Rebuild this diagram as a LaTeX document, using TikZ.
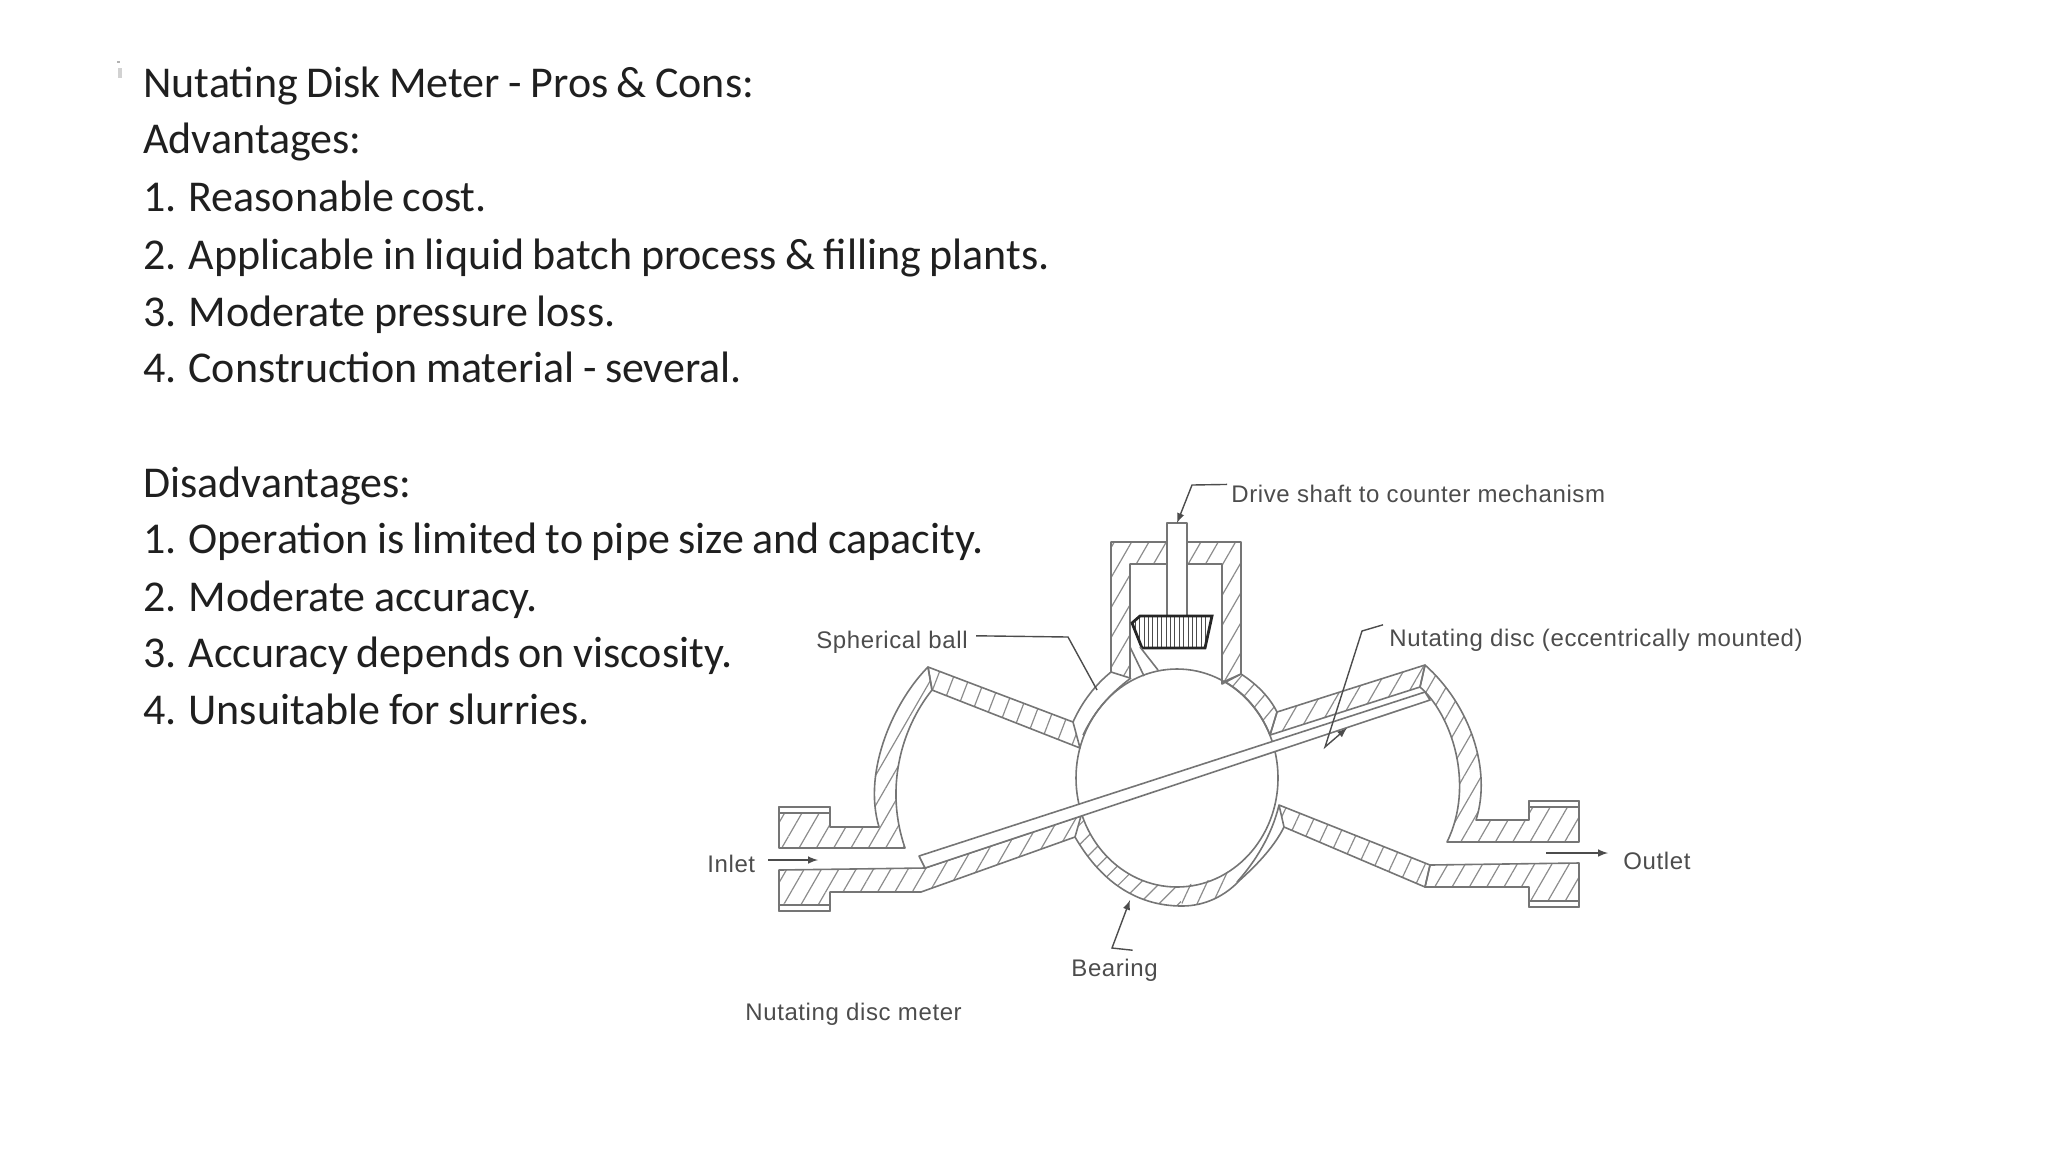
\documentclass[tikz,border=0pt]{standalone}
\usepackage{fontspec}
\setmainfont[WordSpace=0.85]{Carlito}
\newfontfamily\labelfont[LetterSpace=2.5]{Liberation Sans}
\usetikzlibrary{patterns.meta}
\definecolor{wallgray}{gray}{0.46}
\definecolor{hatchgray}{gray}{0.55}
\definecolor{inkgray}{gray}{0.3}
\tikzset{
  bodytext/.style={anchor=base west,inner sep=0pt,text=black!88,font=\fontsize{22}{26}\selectfont},
  parttext/.style={anchor=base west,inner sep=0pt,text=inkgray,font=\labelfont\fontsize{12}{14}\selectfont},
  wall/.style={draw=wallgray,line width=0.8pt,line join=round},
  hatch/.style={wall,pattern={Lines[angle=60,distance=7.5pt,line width=0.6pt]},pattern color=hatchgray},
  ribs/.style={wall,pattern={Lines[angle=#1,distance=7.5pt,line width=0.6pt]},pattern color=hatchgray},
  ribfill/.style={pattern={Lines[angle=#1,distance=7pt,line width=0.6pt]},pattern color=hatchgray},
  leader/.style={draw=inkgray,line width=0.7pt},
}
\begin{document}
\begin{tikzpicture}[x=0.5pt,y=-0.5pt]
        \useasboundingbox (0,0) rectangle (2048,1152);

        % text on the left
        \node[bodytext] (title) at (143,97) {Nutating Disk Meter - Pros \& Cons:};
        \node[bodytext] (adv) at (143,153) {Advantages:};
        \node[bodytext] (adva) at (143,211) {1. Reasonable cost.};
        \node[bodytext] (advb) at (143,269) {2. Applicable in liquid batch process \& filling plants.};
        \node[bodytext] (advc) at (143,326) {3. Moderate pressure loss.};
        \node[bodytext] (advd) at (143,382) {4. Construction material - several.};
        \node[bodytext] (dis) at (143,497) {Disadvantages:};
        \node[bodytext] (disa) at (143,553) {1. Operation is limited to pipe size and capacity.};
        \node[bodytext] (disb) at (143,611) {2. Moderate accuracy.};
        \node[bodytext] (disc) at (143,667) {3. Accuracy depends on viscosity.};
        \node[bodytext] (disd) at (143,724) {4. Unsuitable for slurries.};
        \fill[gray!60] (117,61) rectangle (120,62.5);
        \fill[gray!35] (118,68) rectangle (122,78);

        % meter body
        \path[hatch] (928,667) .. controls (895,700) and (862,770) .. (879,827) -- (830,827) -- (830,807) -- (779,807)
          -- (779,848) -- (905,848) .. controls (885,790) and (900,730) .. (932,690) -- cycle;
        \path[ribs=69] (928,667) -- (1073,722) -- (1080,748) -- (932,690) -- cycle;
        \path[hatch] (779,870) -- (925,868) -- (1081,816) -- (1075,837) -- (921,892) -- (830,892) -- (830,911) -- (779,911) -- cycle;

        \path[hatch] (1277,712) -- (1425,665) -- (1420,687) -- (1270,735) -- cycle;
        \path[hatch] (1425,665) .. controls (1470,705) and (1492,770) .. (1476,820) -- (1529,820) -- (1529,801) -- (1579,801)
          -- (1579,842) -- (1447,842) .. controls (1475,785) and (1452,715) .. (1420,687) -- cycle;
        \path[ribs=65] (1284,827) -- (1425,887) -- (1430,865) -- (1279,805) -- cycle;
        \path[hatch] (1425,887) -- (1529,887) -- (1529,907) -- (1579,907) -- (1579,863) -- (1430,865) -- cycle;

        % flange caps
        \path[wall,fill=white] (779,807) rectangle (830,813);
        \path[wall,fill=white] (779,905) rectangle (830,911);
        \path[wall,fill=white] (1529,801) rectangle (1579,807);
        \path[wall,fill=white] (1529,901) rectangle (1579,907);

        % housing on top
        \path[hatch] (1111,672) -- (1111,542) -- (1167,542) -- (1167,564) -- (1130,564) -- (1130,678) -- cycle;
        \path[hatch] (1187,542) -- (1241,542) -- (1241,674) -- (1222,684) -- (1222,564) -- (1187,564) -- cycle;
        \path[wall] (1167,615) -- (1167,523) -- (1187,523) -- (1187,615);

        % bearing seat
        \path[wall] (1073,722) .. controls (1082,702) and (1095,685) .. (1111,672);
        \path[wall] (1083,735) .. controls (1095,710) and (1112,692) .. (1131,678);
        \path[ribs=50] (1241,674) .. controls (1258,685) and (1270,698) .. (1277,712) -- (1270,735)
          arc[start angle=-23,end angle=-62,x radius=101,y radius=109] -- cycle;
        \path[ribfill=45] (1075,837) .. controls (1100,880) and (1135,906) .. (1182,906)
          -- (1177,887) arc[start angle=90,end angle=160,x radius=101,y radius=109] -- cycle;
        \path[ribfill=65] (1182,906) .. controls (1205,906) and (1225,896) .. (1240,880)
          -- (1235,867) arc[start angle=57,end angle=90,x radius=101,y radius=109] -- cycle;
        \path[wall] (1075,837) .. controls (1100,880) and (1135,906) .. (1182,906)
          .. controls (1205,906) and (1225,896) .. (1240,880) .. controls (1260,862) and (1275,845) .. (1284,827);
        \path[wall] (1279,805) .. controls (1272,835) and (1255,862) .. (1237,882);

        % ball
        \draw[wall] (1278,778) arc[start angle=0,end angle=360,x radius=101,y radius=109];

        % disc
        \path[wall,fill=white] (919,856) -- (1425,692) -- (1430,700) -- (925,868) -- cycle;

        % drive gear
        \path[draw=black!85,line width=1.4pt,pattern={Lines[angle=90,distance=2.2pt,line width=0.5pt]},pattern color=black!70]
          (1140,616) -- (1212,616) -- (1205,648) -- (1142,648) -- (1132,623) -- cycle;
        \path[wall] (1130,647) -- (1144,676);
        \path[wall] (1140,647) -- (1158,670);

        % part names
        \node[parttext] (drive) at (1231,502) {Drive shaft to counter mechanism};
        \node[parttext] (nutdisc) at (1389,646) {Nutating disc (eccentrically mounted)};
        \node[parttext] (ball) at (816,648) {Spherical ball};
        \node[parttext] (inlet) at (707,872) {Inlet};
        \node[parttext] (outlet) at (1623,869) {Outlet};
        \node[parttext] (bearing) at (1071,976) {Bearing};
        \node[parttext] (caption) at (745,1020) {Nutating disc meter};

        % leaders
        \coordinate (driveend) at (1177,523);
        \coordinate (ballend) at (1097,690);
        \coordinate (discend) at (1347,728);
        \coordinate (bearingend) at (1130,900);
        \coordinate (inletstart) at (768,860);
        \coordinate (inletend) at (818,860);
        \coordinate (outletstart) at (1546,853);
        \coordinate (outletend) at (1608,853);
        \draw[leader,-latex] (drive.west) ++(-4,-9) -- (1192,485) -- (driveend);
        \draw[leader] (ball.east) ++(8,-6) -- (1068,637) -- (ballend);
        \draw[leader,-latex] (nutdisc.west) ++(-6,-15) -- (1362,631) -- (1325,747) -- (discend);
        \draw[leader,-latex] (bearing.north) ++(18,-8) -- (1112,948) -- (bearingend);
        \draw[leader,-latex] (inletstart) -- (inletend);
        \draw[leader,-latex] (outletstart) -- (outletend);
      \end{tikzpicture}
\end{document}
